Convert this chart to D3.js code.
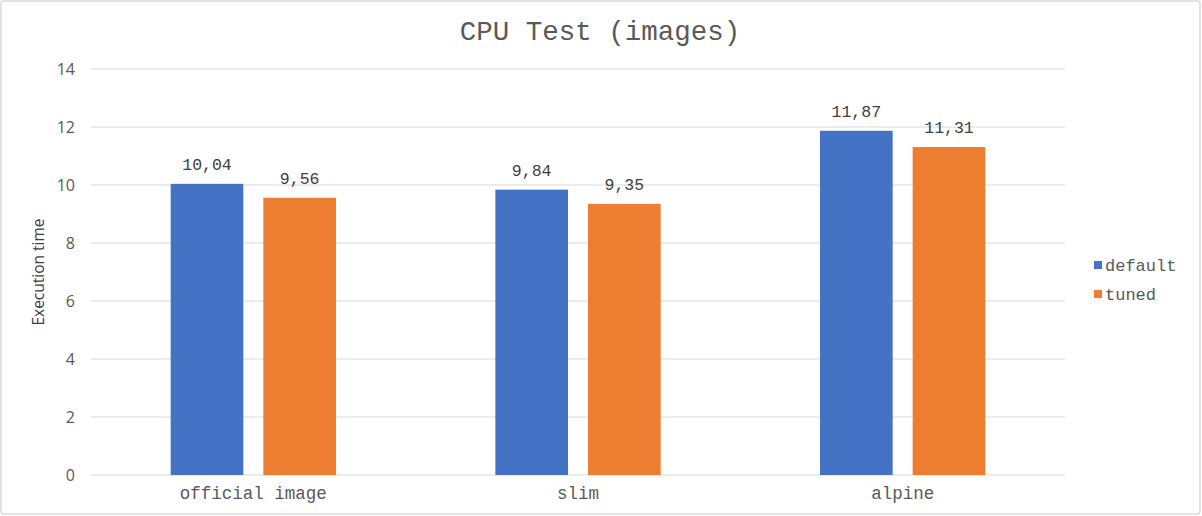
<!DOCTYPE html>
<html>
<head>
<meta charset="utf-8">
<script src="https://cdn.jsdelivr.net/npm/d3@7"></script>
<style>
  body { margin: 0; background: #fff; }
  svg { display: block; }
</style>
</head>
<body>
<div id="chart"></div>
<script>
const categories = ["official image", "slim", "alpine"];
const seriesNames = ["default", "tuned"];
const defaultValues = [10.04, 9.84, 11.87];
const tunedValues = [9.56, 9.35, 11.31];
const yTicks = [0, 2, 4, 6, 8, 10, 12, 14];

const width = 1202;
const height = 516;
const margin = { top: 69, right: 137, bottom: 41, left: 91 };
const colors = { default: "#4472c4", tuned: "#ed7d31" };
const mono = "'Liberation Mono', 'Courier New', monospace";
const sans = "'Open Sans', 'Noto Sans', sans-serif";

const svg = d3.select("#chart")
    .append("svg")
    .attr("width", width)
    .attr("height", height);

// outer frame
svg.append("rect")
    .attr("x", 1).attr("y", 1)
    .attr("width", width - 3).attr("height", height - 3)
    .attr("rx", 3)
    .attr("fill", "#fff")
    .attr("stroke", "#d9d9d9")
    .attr("stroke-width", 1.5);

const x = d3.scaleBand()
    .domain(categories)
    .range([margin.left, width - margin.right]);

const x1 = d3.scaleBand()
    .domain(seriesNames)
    .range([0, x.bandwidth()])
    .paddingInner(0.216)
    .paddingOuter(0.86);

const y = d3.scaleLinear()
    .domain([0, 14])
    .range([height - margin.bottom, margin.top]);

// gridlines
svg.append("g")
    .selectAll("line")
    .data(yTicks)
    .enter()
    .append("line")
    .attr("x1", margin.left)
    .attr("x2", width - margin.right)
    .attr("y1", d => y(d))
    .attr("y2", d => y(d))
    .attr("stroke", "#d9d9d9")
    .attr("stroke-width", 1);

// y tick labels
svg.append("g")
    .selectAll("text")
    .data(yTicks)
    .enter()
    .append("text")
    .attr("x", 75)
    .attr("y", d => y(d))
    .attr("dy", "0.35em")
    .attr("text-anchor", "end")
    .style("font-family", sans)
    .style("font-size", "16px")
    .style("fill", "#595959")
    .text(d => d);

// y label
svg.append("text")
    .attr("transform", `translate(44, ${(margin.top + height - margin.bottom) / 2}) rotate(-90)`)
    .attr("text-anchor", "middle")
    .style("font-family", sans)
    .style("font-size", "15.5px")
    .style("fill", "#404040")
    .text("Execution time");

// title
svg.append("text")
    .attr("x", 600)
    .attr("y", 40)
    .attr("text-anchor", "middle")
    .style("font-family", mono)
    .style("font-size", "27.5px")
    .style("fill", "#595959")
    .text("CPU Test (images)");

const rows = categories.map((c, i) => ({
    category: c,
    values: [
        { key: "default", value: defaultValues[i] },
        { key: "tuned", value: tunedValues[i] }
    ]
}));

const groups = svg.append("g")
    .selectAll("g")
    .data(rows)
    .enter()
    .append("g")
    .attr("transform", d => `translate(${x(d.category)},0)`);

groups.selectAll("rect")
    .data(d => d.values)
    .enter()
    .append("rect")
    .attr("x", d => x1(d.key))
    .attr("width", x1.bandwidth())
    .attr("y", d => y(d.value))
    .attr("height", d => y(0) - y(d.value))
    .attr("fill", d => colors[d.key]);

groups.selectAll("text.value")
    .data(d => d.values)
    .enter()
    .append("text")
    .attr("class", "value")
    .attr("x", d => x1(d.key) + x1.bandwidth() / 2)
    .attr("y", d => y(d.value) - 14)
    .attr("text-anchor", "middle")
    .style("font-family", mono)
    .style("font-size", "16.5px")
    .style("fill", "#404040")
    .text(d => d.value.toFixed(2).replace(".", ","));

// category labels
svg.append("g")
    .selectAll("text")
    .data(categories)
    .enter()
    .append("text")
    .attr("x", d => x(d) + x.bandwidth() / 2)
    .attr("y", height - margin.bottom + 24)
    .attr("text-anchor", "middle")
    .style("font-family", mono)
    .style("font-size", "17.5px")
    .style("fill", "#595959")
    .text(d => d);

// legend
const legend = svg.append("g")
    .selectAll("g")
    .data(seriesNames)
    .enter()
    .append("g")
    .attr("transform", (d, i) => `translate(1094, ${265 + i * 29})`);

legend.append("rect")
    .attr("x", 0)
    .attr("y", -4)
    .attr("width", 8)
    .attr("height", 8)
    .attr("fill", d => colors[d]);

legend.append("text")
    .attr("x", 11)
    .attr("dy", "0.35em")
    .style("font-family", mono)
    .style("font-size", "17px")
    .style("fill", "#595959")
    .text(d => d);
</script>
</body>
</html>
